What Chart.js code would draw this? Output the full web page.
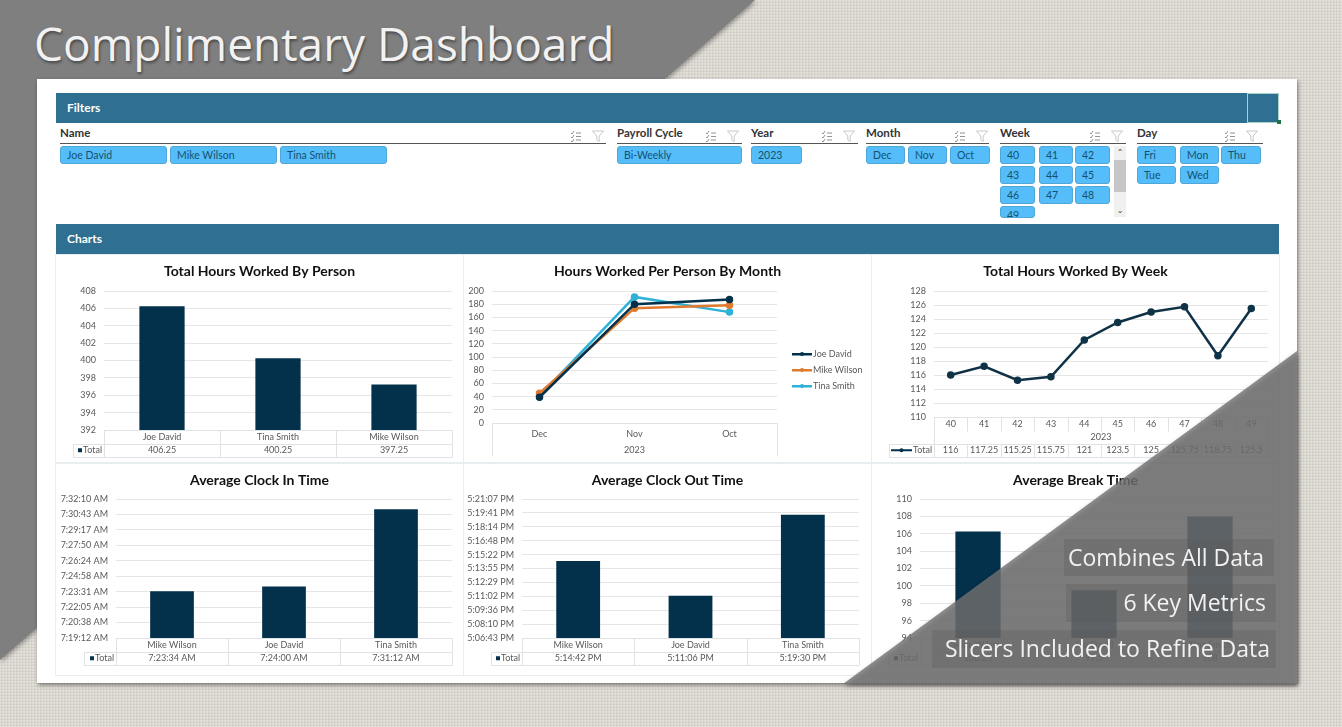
<!DOCTYPE html>
<html>
<head>
<meta charset="utf-8">
<title>Complimentary Dashboard</title>
<script src="https://cdn.jsdelivr.net/npm/chart.js@4"></script>
<style>
    html, body { margin: 0; padding: 0; width: 1342px; height: 727px; overflow: hidden; }
    body {
        position: relative;
        font-family: Lato, sans-serif;
        background-color: #dad7cf;
        background-image:
            repeating-linear-gradient(0deg, rgba(255,255,255,0.14) 0 1px, rgba(125,115,100,0.07) 1px 2px, rgba(255,255,255,0.05) 2px 3px),
            repeating-linear-gradient(90deg, rgba(255,255,255,0.14) 0 1px, rgba(125,115,100,0.07) 1px 2px, rgba(255,255,255,0.05) 2px 3px);
    }
    .abs { position: absolute; }
    #corner { left: 0; top: 0; width: 756px; height: 661px; }
    #corner div { width: 100%; height: 100%; background: #7f7f7f; clip-path: polygon(0 0, 755px 0, 0 660px); }
    #corner { filter: drop-shadow(1px 2px 2px rgba(0,0,0,0.35)); }
    #mainTitle {
        left: 34px; top: 12px; font: 46px "Open Sans", sans-serif; color: #f2f2f2; white-space: nowrap;
        text-shadow: 1px 2px 3px rgba(0,0,0,0.45);
    }
    #sheet { left: 37px; top: 79px; width: 1260px; height: 604px; background: #fff; box-shadow: 1px 2px 4px rgba(0,0,0,0.45); }
    .bar { left: 56px; width: 1223px; height: 30px; background: #2f6f91; color: #fff; font: bold 12px/30px Lato, sans-serif; text-indent: 11px; }
    #selBox { left: 1247px; top: 93px; width: 30px; height: 28px; border: 1px solid #a9d3c8; }
    #selDot { left: 1277px; top: 120px; width: 4px; height: 4px; background: #217346; }
    .head { font: bold 11.5px Lato, sans-serif; color: #333; white-space: nowrap; }
    .rule { height: 1px; background: #555; }
    .btn {
        height: 16px; background: #55bdf9; border: 1px solid #4fa6d8; border-radius: 3px; box-sizing: content-box;
        color: #14516f; font: 10.5px/16px Lato, sans-serif; text-indent: 6px; white-space: nowrap; overflow: hidden;
    }
    .icon { width: 12px; height: 12px; }
    #sbar { left: 1114px; top: 146px; width: 12px; height: 71px; background: #f0f0f0; }
    #sthumb { left: 1114px; top: 160px; width: 12px; height: 32px; background: #c6c6c6; }
    #sup, #sdown { left: 1114px; width: 12px; text-align: center; font: 8px/10px "DejaVu Sans", sans-serif; color: #444; }
    .panel { background: #fff; box-shadow: 0 0 0 1px #e8edf0; }
    canvas { display: block; }
    #overlayWrap { left: 0; top: 0; width: 1342px; height: 727px; filter: drop-shadow(1px 2px 2px rgba(0,0,0,0.5)); }
    #overlay { width: 100%; height: 100%; background: rgba(115,115,115,0.8); clip-path: polygon(1297px 351px, 1297px 684px, 843px 684px); }
    .note {
        background: rgba(90,90,90,0.3); color: #f2f2f2; font: 23px/37px "Open Sans", sans-serif;
        text-align: right; white-space: nowrap; box-sizing: border-box;
    }
</style>
</head>
<body>
<div id="corner" class="abs"><div></div></div>
<div id="mainTitle" class="abs">Complimentary Dashboard</div>
<div id="sheet" class="abs"></div>
<div class="abs bar" style="top:93px">Filters</div>
<div class="abs bar" style="top:224px">Charts</div>
<div id="selBox" class="abs"></div>
<div id="selDot" class="abs"></div>
<div id="slicers"></div>
<div id="sbar" class="abs"></div>
<div id="sthumb" class="abs"></div>
<div id="sup" class="abs" style="top:148px">&#8963;</div>
<div id="sdown" class="abs" style="top:206px">&#8964;</div>
<div id="charts"></div>
<div id="overlayWrap" class="abs"><div id="overlay"></div></div>
<div class="abs note" style="left:1064px;top:539px;width:210px;height:37px;padding-right:10px">Combines All Data</div>
<div class="abs note" style="left:1066px;top:584px;width:210px;height:38px;padding-right:10px">6 Key Metrics</div>
<div class="abs note" style="left:932px;top:630px;width:344px;height:38px;padding-right:6px">Slicers Included to Refine Data</div>

<script>
// --- DATA ---
const PERSON_ORDER_HOURS = ['Joe David', 'Tina Smith', 'Mike Wilson'];
const HOURS_BY_PERSON = [406.25, 400.25, 397.25];
const HOURS_BY_PERSON_TEXT = ['406.25', '400.25', '397.25'];

const MONTHS = ['Dec', 'Nov', 'Oct'];
const JOE_BY_MONTH = [39, 180, 187.25];
const MIKE_BY_MONTH = [45, 174, 178.25];
const TINA_BY_MONTH = [41.25, 191, 168];

const WEEKS = ['40', '41', '42', '43', '44', '45', '46', '47', '48', '49'];
const HOURS_BY_WEEK = [116, 117.25, 115.25, 115.75, 121, 123.5, 125, 125.75, 118.75, 125.5];
const HOURS_BY_WEEK_TEXT = ['116', '117.25', '115.25', '115.75', '121', '123.5', '125', '125.75', '118.75', '125.5'];

const PERSON_ORDER_TIMES = ['Mike Wilson', 'Joe David', 'Tina Smith'];
const CLOCK_IN_SECONDS = [26614, 26640, 27072];
const CLOCK_IN_TEXT = ['7:23:34 AM', '7:24:00 AM', '7:31:12 AM'];
const CLOCK_IN_TICKS = ['7:19:12 AM', '7:20:38 AM', '7:22:05 AM', '7:23:31 AM', '7:24:58 AM', '7:26:24 AM', '7:27:50 AM', '7:29:17 AM', '7:30:43 AM', '7:32:10 AM'];

const CLOCK_OUT_SECONDS = [62082, 61866, 62370];
const CLOCK_OUT_TEXT = ['5:14:42 PM', '5:11:06 PM', '5:19:30 PM'];
const CLOCK_OUT_TICKS = ['5:06:43 PM', '5:08:10 PM', '5:09:36 PM', '5:11:02 PM', '5:12:29 PM', '5:13:55 PM', '5:15:22 PM', '5:16:48 PM', '5:18:14 PM', '5:19:41 PM', '5:21:07 PM'];

const BREAK_MINUTES = [106.25, 99.5, 108];
const BREAK_TEXT = ['106.25', '99.5', '108'];

// --- THEME ---
const NAVY = '#03304b';
const ORANGE = '#e07a2f';
const SKY = '#2fb1d8';
const GRID = '#e6e6e6';
const TABLE_LINE = '#dfe3e6';
const TEXT = '#595959';
const FONT = 'Lato, sans-serif';

// --- SLICERS ---
const CHECK_ICON = '<svg class="icon" viewBox="0 0 12 12" fill="none" stroke="#777" stroke-width="0.8"><path d="M1 3l1 1 2-3M1 7l1 1 2-3M1 11l1 1 2-3M6 3h5M6 6.5h5M6 10h5"/></svg>';
const FUNNEL_ICON = '<svg class="icon" viewBox="0 0 12 12" fill="none" stroke="#bbb" stroke-width="0.8"><path d="M0.5 1h11L7.2 6v5.5L4.8 10V6z"/></svg>';

function addSlicer(name, x, ruleWidth, iconX1, iconX2, buttons) {
    const root = document.getElementById('slicers');
    let html = `<div class="abs head" style="left:${x}px;top:126px">${name}</div>`;
    html += `<div class="abs rule" style="left:${x}px;top:143px;width:${ruleWidth}px"></div>`;
    html += `<div class="abs icon" style="left:${iconX1}px;top:126px">${CHECK_ICON}</div>`;
    html += `<div class="abs icon" style="left:${iconX2}px;top:126px">${FUNNEL_ICON}</div>`;
    buttons.forEach(b => {
        const clip = b.h ? `height:${b.h}px;` : '';
        html += `<div class="abs btn" style="left:${b.x}px;top:${b.y}px;width:${b.w}px;${clip}">${b.t}</div>`;
    });
    root.insertAdjacentHTML('beforeend', html);
}

addSlicer('Name', 60, 546, 570, 592, [
    { x: 60, y: 146, w: 105, t: 'Joe David' },
    { x: 170, y: 146, w: 105, t: 'Mike Wilson' },
    { x: 280, y: 146, w: 105, t: 'Tina Smith' },
]);
addSlicer('Payroll Cycle', 617, 125, 705, 727, [{ x: 617, y: 146, w: 123, t: 'Bi-Weekly' }]);
addSlicer('Year', 751, 107, 821, 843, [{ x: 751, y: 146, w: 49, t: '2023' }]);
addSlicer('Month', 866, 123, 954, 976, [
    { x: 866, y: 146, w: 37, t: 'Dec' },
    { x: 908, y: 146, w: 37, t: 'Nov' },
    { x: 950, y: 146, w: 38, t: 'Oct' },
]);
addSlicer('Week', 1000, 126, 1089, 1111, [
    { x: 1000, y: 146, w: 33, t: '40' }, { x: 1039, y: 146, w: 32, t: '41' }, { x: 1075, y: 146, w: 33, t: '42' },
    { x: 1000, y: 166, w: 33, t: '43' }, { x: 1039, y: 166, w: 32, t: '44' }, { x: 1075, y: 166, w: 33, t: '45' },
    { x: 1000, y: 186, w: 33, t: '46' }, { x: 1039, y: 186, w: 32, t: '47' }, { x: 1075, y: 186, w: 33, t: '48' },
    { x: 1000, y: 206, w: 33, t: '49', h: 10 },
]);
addSlicer('Day', 1137, 126, 1224, 1246, [
    { x: 1137, y: 146, w: 37, t: 'Fri' }, { x: 1180, y: 146, w: 37, t: 'Mon' }, { x: 1221, y: 146, w: 38, t: 'Thu' },
    { x: 1137, y: 166, w: 37, t: 'Tue' }, { x: 1180, y: 166, w: 37, t: 'Wed' },
]);

// --- CHART HELPERS ---
// Excel style pivot table under the plot, plus the key of each chart
const excelTablePlugin = {
    id: 'excelTable',
    afterDraw(chart, args, opts) {
        const { ctx, chartArea } = chart;
        const xScale = chart.scales.x;
        const step = chartArea.width / chart.data.labels.length;
        let y = chartArea.bottom;
        ctx.save();
        ctx.font = `9px ${FONT}`;
        ctx.fillStyle = TEXT;
        ctx.textAlign = 'center';
        ctx.textBaseline = 'middle';
        ctx.strokeStyle = TABLE_LINE;
        ctx.lineWidth = 1;

        const line = (x1, y1, x2, y2) => {
            ctx.beginPath();
            ctx.moveTo(Math.round(x1) + 0.5, Math.round(y1) + 0.5);
            ctx.lineTo(Math.round(x2) + 0.5, Math.round(y2) + 0.5);
            ctx.stroke();
        };

        (opts.rows || []).forEach((row, r) => {
            const mid = y + row.h / 2;
            if (row.span) {
                ctx.fillText(row.span, chartArea.left + chartArea.width / 2, mid);
            } else {
                row.cells.forEach((c, i) => ctx.fillText(c, xScale.getPixelForValue(i), mid));
                if (row.dividers !== false) {
                    for (let i = 1; i < row.cells.length; i++) {
                        line(chartArea.left + step * i, y, chartArea.left + step * i, y + row.h);
                    }
                }
            }
            line(chartArea.left, y, chartArea.left, y + row.h);
            line(chartArea.right, y, chartArea.right, y + row.h);
            if (row.rule !== false) line(chartArea.left, y, chartArea.right, y);
            y += row.h;
            if (r === opts.rows.length - 1 && opts.closed !== false) line(chartArea.left, y, chartArea.right, y);
        });

        if (opts.keyLeft !== undefined) {
            const rowH = opts.rows[opts.rows.length - 1].h;
            const top = y - rowH;
            line(opts.keyLeft, top, chartArea.left, top);
            line(opts.keyLeft, y, chartArea.left, y);
            line(opts.keyLeft, top, opts.keyLeft, y);
            ctx.textAlign = 'right';
            ctx.fillText('Total', chartArea.left - 2, top + rowH / 2);
            ctx.fillStyle = NAVY;
            if (opts.keyLine) {
                ctx.fillRect(opts.keyLeft + 2, top + rowH / 2 - 1, 21, 2);
                ctx.beginPath();
                ctx.arc(opts.keyLeft + 12.5, top + rowH / 2, 2, 0, Math.PI * 2);
                ctx.fill();
            } else {
                ctx.fillRect(chartArea.left - 26, top + rowH / 2 - 2, 4, 4);
            }
        }

        // legend of the monthly chart
        if (opts.legendX !== undefined) {
            chart.data.datasets.forEach((ds, i) => {
                const ly = opts.legendY + i * 16;
                ctx.fillStyle = ds.borderColor;
                ctx.fillRect(opts.legendX, ly - 1, 20, 2.5);
                ctx.beginPath();
                ctx.arc(opts.legendX + 10, ly, 2, 0, Math.PI * 2);
                ctx.fill();
                ctx.fillStyle = TEXT;
                ctx.textAlign = 'left';
                ctx.fillText(ds.label, opts.legendX + 21, ly);
            });
        }
        ctx.restore();
    }
};

function makeChart(spec) {
    const holder = document.createElement('div');
    holder.className = 'abs panel';
    holder.style.cssText = `left:${spec.box[0]}px;top:${spec.box[1]}px;width:${spec.box[2]}px;height:${spec.box[3]}px`;
    const canvas = document.createElement('canvas');
    canvas.width = spec.box[2];
    canvas.height = spec.box[3];
    holder.appendChild(canvas);
    document.getElementById('charts').appendChild(holder);

    return new Chart(canvas.getContext('2d'), {
        type: spec.type,
        data: { labels: spec.labels, datasets: spec.datasets },
        plugins: [excelTablePlugin],
        options: {
            responsive: false,
            animation: false,
            scales: {
                x: {
                    offset: true,
                    ticks: { display: false },
                    grid: { display: false },
                    border: { display: false },
                    afterFit: s => { s.height = spec.box[3] - spec.plot[3]; }
                },
                y: {
                    min: spec.min,
                    max: spec.max,
                    ticks: {
                        stepSize: spec.step,
                        autoSkip: false,
                        padding: 8,
                        color: TEXT,
                        font: { size: 9, family: FONT },
                        callback: spec.ticks ? (v, i) => spec.ticks[i] : v => v
                    },
                    grid: { color: GRID, drawTicks: false },
                    border: { display: false },
                    afterFit: s => { s.width = spec.plot[0]; }
                },
                // empty axis that keeps the right margin, so the title stays centred on the panel
                margin: {
                    position: 'right',
                    display: true,
                    ticks: { display: false },
                    grid: { display: false },
                    border: { display: false },
                    afterFit: s => { s.width = spec.box[2] - spec.plot[1]; }
                }
            },
            plugins: {
                legend: { display: false },
                tooltip: { enabled: false },
                title: {
                    display: true,
                    text: spec.title,
                    color: '#111',
                    font: { size: 14, weight: 'bold', family: FONT },
                    padding: { top: 7.6, bottom: spec.plot[2] - 7.6 - 16.8 }
                },
                excelTable: spec.table
            }
        }
    });
}

function barSet(values) {
    return [{ label: 'Total', data: values, backgroundColor: NAVY, barPercentage: 1, categoryPercentage: 0.39 }];
}

function lineSet(label, values, color) {
    return { label, data: values, borderColor: color, backgroundColor: color, borderWidth: 2.5, pointRadius: 2.5, tension: 0 };
}

function tableRows(labels, totals) {
    return [{ h: 13.5, cells: labels }, { h: 13.5, cells: totals }];
}

// box: [left, top, width, height], plot: [left, right, top, bottom] inside the box
makeChart({
    type: 'bar', title: 'Total Hours Worked By Person',
    box: [56, 255, 407, 207], plot: [48, 396, 36, 175],
    labels: PERSON_ORDER_HOURS, datasets: barSet(HOURS_BY_PERSON), min: 392, max: 408, step: 2,
    table: { rows: tableRows(PERSON_ORDER_HOURS, HOURS_BY_PERSON_TEXT), keyLeft: 16.5 }
});
makeChart({
    type: 'line', title: 'Hours Worked Per Person By Month',
    box: [464, 255, 407, 207], plot: [28, 313, 36, 168],
    labels: MONTHS,
    datasets: [lineSet('Joe David', JOE_BY_MONTH, NAVY), lineSet('Mike Wilson', MIKE_BY_MONTH, ORANGE), lineSet('Tina Smith', TINA_BY_MONTH, SKY)],
    min: 0, max: 200, step: 20,
    table: { rows: [{ h: 22, cells: MONTHS, dividers: false }, { h: 11, span: '2023', rule: false }], closed: false, legendX: 328, legendY: 99 }
});
makeChart({
    type: 'line', title: 'Total Hours Worked By Week',
    box: [872, 255, 407, 207], plot: [62, 396, 36, 162],
    labels: WEEKS, datasets: [lineSet('Total', HOURS_BY_WEEK, '#0f3247')], min: 110, max: 128, step: 2,
    table: {
        rows: [{ h: 14, cells: WEEKS }, { h: 12.5, span: '2023', rule: false }, { h: 13.5, cells: HOURS_BY_WEEK_TEXT }],
        keyLeft: 17, keyLine: true
    }
});
makeChart({
    type: 'bar', title: 'Average Clock In Time',
    box: [56, 464, 407, 211], plot: [60, 396, 35, 174],
    labels: PERSON_ORDER_TIMES, datasets: barSet(CLOCK_IN_SECONDS), min: 26352, max: 27129.6, step: 86.4, ticks: CLOCK_IN_TICKS,
    table: { rows: tableRows(PERSON_ORDER_TIMES, CLOCK_IN_TEXT), keyLeft: 28 }
});
makeChart({
    type: 'bar', title: 'Average Clock Out Time',
    box: [464, 464, 407, 211], plot: [58, 395, 35, 174],
    labels: PERSON_ORDER_TIMES, datasets: barSet(CLOCK_OUT_SECONDS), min: 61603.2, max: 62467.2, step: 86.4, ticks: CLOCK_OUT_TICKS,
    table: { rows: tableRows(PERSON_ORDER_TIMES, CLOCK_OUT_TEXT), keyLeft: 27 }
});
makeChart({
    type: 'bar', title: 'Average Break Time',
    box: [872, 464, 407, 211], plot: [48, 396, 35, 174],
    labels: PERSON_ORDER_TIMES, datasets: barSet(BREAK_MINUTES), min: 94, max: 110, step: 2,
    table: { rows: tableRows(PERSON_ORDER_TIMES, BREAK_TEXT), keyLeft: 16 }
});
</script>
</body>
</html>
